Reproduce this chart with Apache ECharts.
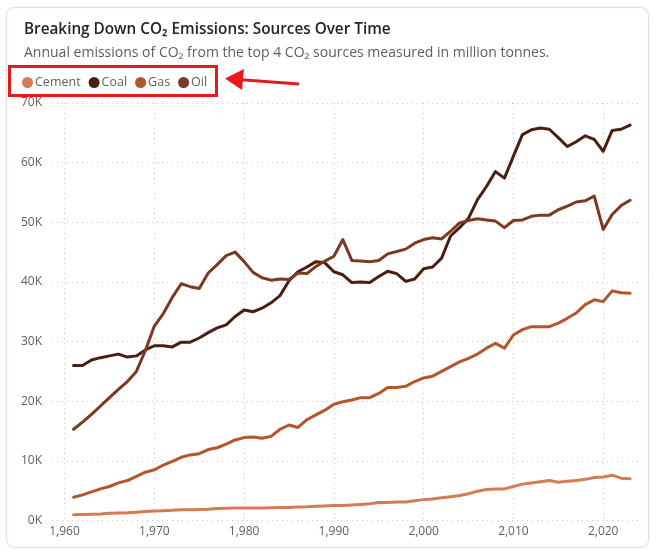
<!DOCTYPE html>
<html>
<head>
<meta charset="utf-8">
<title>CO2 emissions by source</title>
<script src="https://cdn.jsdelivr.net/npm/echarts@6/dist/echarts.min.js"></script>
<style>
  html, body { margin: 0; padding: 0; background: #ffffff; }
  #chart { width: 660px; height: 558px; }
</style>
</head>
<body>
<div id="chart"></div>
<script>
// Years on the x axis
const years = [];
for (let y = 1961; y <= 2023; y++) years.push(y);

// Emissions per source, million tonnes (1961 .. 2023)
const cement = [
  950, 1000, 1050, 1100, 1200, 1250, 1300, 1400, 1500, 1600,
  1650, 1700, 1800, 1800, 1850, 1900, 2000, 2050, 2100, 2100,
  2100, 2100, 2150, 2200, 2200, 2250, 2300, 2400, 2450, 2500,
  2500, 2600, 2700, 2800, 3000, 3000, 3100, 3100, 3300, 3500,
  3600, 3800, 4000, 4200, 4500, 4900, 5200, 5300, 5300, 5700,
  6100, 6300, 6500, 6700, 6400, 6600, 6700, 6900, 7200, 7300,
  7600, 7100, 7000
];
const coal = [
  26000, 26000, 26900, 27300, 27600, 27900, 27400, 27600, 28600, 29300,
  29300, 29100, 29900, 29900, 30600, 31500, 32300, 32800, 34200, 35300,
  35000, 35600, 36500, 37700, 40200, 41700, 42500, 43400, 43200, 41700,
  41200, 39900, 40000, 39900, 40900, 41800, 41400, 40100, 40500, 42200,
  42500, 44000, 47700, 49100, 50700, 53800, 56000, 58500, 57400, 61100,
  64700, 65500, 65800, 65600, 64200, 62700, 63500, 64500, 63900, 61900,
  65400, 65600, 66300
];
const gas = [
  3900, 4300, 4800, 5300, 5700, 6300, 6700, 7400, 8100, 8500,
  9300, 9900, 10600, 11000, 11200, 11900, 12200, 12800, 13500, 13900,
  14000, 13800, 14100, 15300, 16000, 15600, 16900, 17700, 18500, 19500,
  19900, 20200, 20600, 20600, 21300, 22300, 22300, 22500, 23300, 23900,
  24200, 25000, 25800, 26600, 27200, 27900, 28900, 29700, 28900, 31100,
  32000, 32500, 32500, 32500, 33100, 33900, 34800, 36200, 37000, 36700,
  38500, 38200, 38100
];
const oil = [
  15300, 16500, 17800, 19200, 20600, 22000, 23300, 25000, 28500, 32600,
  34700, 37400, 39700, 39200, 38900, 41500, 42900, 44400, 45000, 43400,
  41600, 40700, 40300, 40500, 40400, 41500, 41400, 42600, 43500, 44300,
  47100, 43600, 43500, 43400, 43600, 44700, 45100, 45500, 46500, 47100,
  47400, 47200, 48500, 49900, 50300, 50600, 50400, 50200, 49100, 50300,
  50400, 51000, 51200, 51200, 52100, 52700, 53400, 53600, 54400, 48800,
  51300, 52800, 53700
];

// Tick labels
const xTicks = [1960, 1970, 1980, 1990, 2000, 2010, 2020];

const seriesNames = ['Cement', 'Coal', 'Gas', 'Oil'];
const seriesData = [cement, coal, gas, oil];
const colors = ['#D27B55', '#4A1F10', '#B4552C', '#7C3820'];

const chartDom = document.getElementById('chart');
const myChart = echarts.init(chartDom);

const textFont = '"Open Sans", "Noto Sans", sans-serif';
const red = '#E51B1B';

const option = {
  animation: false,
  textStyle: { fontFamily: textFont },
  title: [
    {
      text: 'Breaking Down CO₂ Emissions: Sources Over Time',
      left: 19, top: 17,
      textStyle: { fontSize: 15.3, fontWeight: 600, color: '#252423', fontFamily: textFont }
    },
    {
      text: 'Annual emissions of CO₂ from the top 4 CO₂ sources measured in million tonnes.',
      left: 19, top: 41,
      textStyle: { fontSize: 14, fontWeight: 'normal', color: '#605E5C', fontFamily: textFont }
    }
  ],
  legend: {
    data: seriesNames,
    left: 17, top: 71,
    icon: 'circle',
    itemWidth: 11, itemHeight: 11,
    itemGap: 8,
    textStyle: { fontSize: 12.5, color: '#605E5C', padding: [0, 0, 0, -3] }
  },
  grid: { left: 52, right: 20, top: 103, bottom: 37.5 },
  xAxis: {
    type: 'value',
    min: 1958.6, max: 2024.1,
    axisLine: { show: false },
    axisTick: { show: false, customValues: xTicks },
    axisLabel: { customValues: xTicks, color: '#605E5C', fontSize: 12, margin: 5 },
    splitLine: { show: true, lineStyle: { type: [1, 4], color: '#C8C8C8', width: 1 } }
  },
  yAxis: {
    type: 'value',
    min: 0, max: 70000, interval: 10000,
    axisLine: { show: false },
    axisTick: { show: false },
    axisLabel: {
      color: '#605E5C', fontSize: 12, margin: 10,
      formatter: v => (v / 1000) + 'K'
    },
    splitLine: { lineStyle: { type: [1, 4], color: '#C8C8C8', width: 1 } }
  },
  series: seriesNames.map((name, i) => ({
    name: name,
    type: 'line',
    data: years.map((y, j) => [y, seriesData[i][j]]),
    showSymbol: false,
    symbol: 'circle',
    color: colors[i],
    lineStyle: { width: 3, color: colors[i], cap: 'round', join: 'round' }
  })),
  graphic: [
    {
      type: 'rect', z: -10, silent: true,
      shape: { x: 6.5, y: 7.5, width: 642, height: 540, r: 8 },
      style: { fill: '#ffffff', stroke: '#E1E1E1', lineWidth: 1, shadowBlur: 3, shadowColor: 'rgba(0,0,0,0.08)' }
    },
    {
      type: 'rect', z: 100, silent: true,
      shape: { x: 9.5, y: 66.5, width: 207, height: 29 },
      style: { fill: 'none', stroke: red, lineWidth: 3 }
    },
    {
      type: 'line', z: 100, silent: true,
      shape: { x1: 299, y1: 84, x2: 238, y2: 79.5 },
      style: { stroke: red, lineWidth: 3 }
    },
    {
      type: 'polygon', z: 100, silent: true,
      shape: { points: [[225, 78.5], [244, 69], [242, 90]] },
      style: { fill: red }
    }
  ]
};

myChart.setOption(option);
</script>
</body>
</html>
